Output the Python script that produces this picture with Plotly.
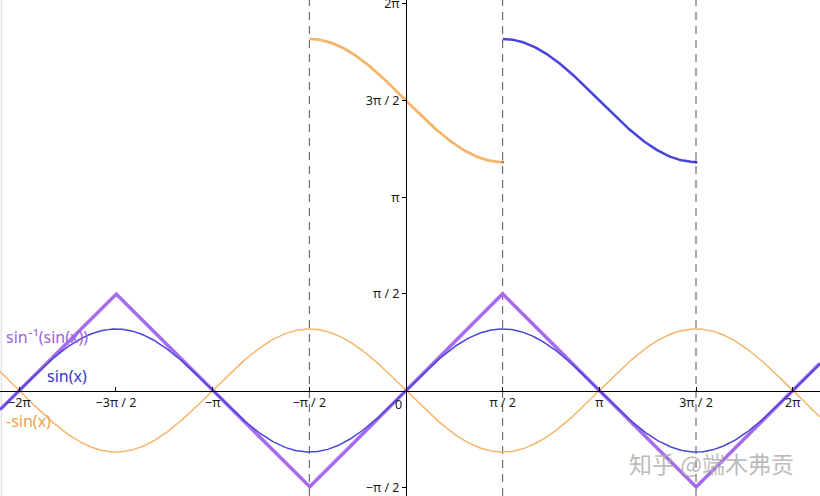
import numpy as np
import plotly.graph_objects as go

PI = np.pi
# axis extents (radians)
x_range = [-6.597, 6.727]
y_range = [-1.714, 6.345]

x_tickvals = [-2*PI, -1.5*PI, -PI, -0.5*PI, 0.5*PI, PI, 1.5*PI, 2*PI]
x_ticktext = ["−2π", "−3π / 2", "−π", "−π / 2", "π / 2", "π", "3π / 2", "2π"]
y_tickvals = [-0.5*PI, 0.5*PI, PI, 1.5*PI, 2*PI]
y_ticktext = ["−π / 2", "π / 2", "π", "3π / 2", "2π"]
dashed_x = [-0.5*PI, 0.5*PI, 1.5*PI]

# sample grid over the full view
x = np.linspace(x_range[0], x_range[1], 1200)
sin_x = np.sin(x)
neg_sin_x = -np.sin(x)
asin_sin_x = np.arcsin(np.sin(x))

# upper branch segments
seg_orange_x = np.linspace(-0.5*PI, 0.5*PI, 200)
seg_orange_y = 1.5*PI - np.sin(seg_orange_x)
seg_blue_x = np.linspace(0.5*PI, 1.5*PI, 200)
seg_blue_y = 1.5*PI + np.sin(seg_blue_x)

ORANGE = "#F6B56B"
BLUE = "#4A44DC"
PURPLE = "#A56CEE"

fig = go.Figure()
fig.add_trace(go.Scatter(x=x, y=neg_sin_x, mode="lines", line=dict(color=ORANGE, width=1.5), hoverinfo="skip"))
fig.add_trace(go.Scatter(x=x, y=asin_sin_x, mode="lines", line=dict(color=PURPLE, width=3.5), hoverinfo="skip"))
fig.add_trace(go.Scatter(x=x, y=sin_x, mode="lines", line=dict(color=BLUE, width=1.5), hoverinfo="skip"))
fig.add_trace(go.Scatter(x=seg_orange_x, y=seg_orange_y, mode="lines", line=dict(color=ORANGE, width=2.8), hoverinfo="skip"))
fig.add_trace(go.Scatter(x=seg_blue_x, y=seg_blue_y, mode="lines", line=dict(color=BLUE, width=2.5), hoverinfo="skip"))
fig.add_trace(go.Scatter(x=[seg_orange_x[-1], seg_blue_x[-1]], y=[seg_orange_y[-1], seg_blue_y[-1]],
                         mode="markers", marker=dict(color=["#C08040", "#3030A0"], size=3), hoverinfo="skip"))

for v in dashed_x:
    fig.add_shape(type="line", x0=v, x1=v, y0=0, y1=1, xref="x", yref="paper",
                  line=dict(color="#555555", width=1, dash="8px,6px"), layer="below")
# faint frame line at the left edge
fig.add_shape(type="line", x0=0.0015, x1=0.0015, y0=0, y1=1, xref="paper", yref="paper",
              line=dict(color="#d8d8d8", width=1), layer="below")

xpos = (0 - y_range[0]) / (y_range[1] - y_range[0])
ypos = (0 - x_range[0]) / (x_range[1] - x_range[0])

font_main = "Noto Sans, DejaVu Sans, sans-serif"
fig.update_layout(
    width=820, height=496, margin=dict(l=0, r=0, t=0, b=0, autoexpand=False),
    paper_bgcolor="white", plot_bgcolor="white", showlegend=False,
    font=dict(family=font_main, size=12, color="#1a1a1a"),
    xaxis=dict(range=x_range, tickvals=x_tickvals, ticktext=x_ticktext, showgrid=False, zeroline=False,
               showline=True, linecolor="black", linewidth=1, anchor="free", position=xpos,
               ticks="inside", ticklen=4, tickcolor="black", tickfont=dict(size=12.5), automargin=False,
               ticklabeloverflow="allow"),
    yaxis=dict(range=y_range, tickvals=y_tickvals, ticktext=y_ticktext, showgrid=False, zeroline=False,
               showline=True, linecolor="black", linewidth=1, anchor="free", position=ypos,
               ticks="outside", ticklen=4, tickcolor="black", tickfont=dict(size=12.5), automargin=False,
               ticklabeloverflow="allow"),
)

fig.add_annotation(x=0, y=0, text="0", showarrow=False, xanchor="right", yanchor="top",
                   xshift=-2, yshift=-3, font=dict(size=12.5, color="#1a1a1a"))

labels = [
    ("sin⁻¹(sin(x))", -6.54, 0.869, "#A05FE0"),
    ("sin(x)", -5.87, 0.236, "#3A36C8"),
    ("-sin(x)", -6.54, -0.496, "#F0A250"),
]
for txt, lx, ly, col in labels:
    fig.add_annotation(x=lx, y=ly, text=txt, showarrow=False, xanchor="left", yanchor="middle",
                       font=dict(size=16, color=col, family=font_main))

fig.add_annotation(x=4.956, y=-1.178, text="知乎 @端木弗贡", showarrow=False, xanchor="center", yanchor="middle",
                   font=dict(size=23, color="rgba(175,175,175,0.85)", family="Noto Sans CJK SC"))

fig.write_html("out.html", config={"displayModeBar": False},
               post_script="document.body.style.margin='0px';document.body.style.overflow='hidden';")
